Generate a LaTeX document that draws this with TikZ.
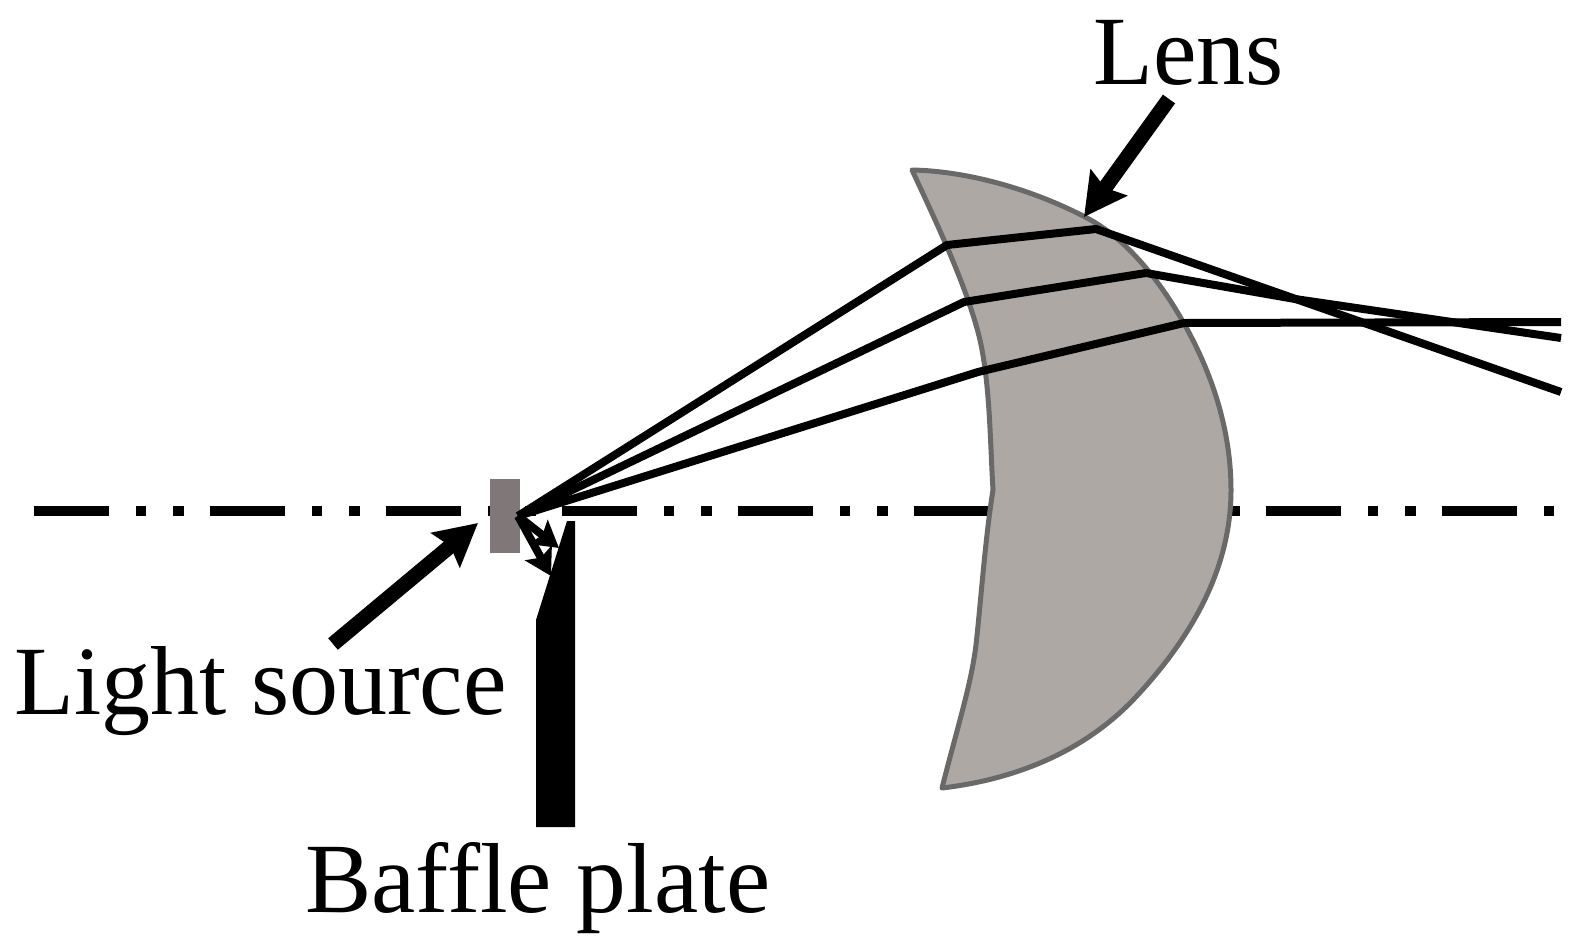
\documentclass[tikz,border=0pt]{standalone}
\usepackage{fontspec}
\setmainfont[Ligatures=NoCommon]{Liberation Serif}
\usetikzlibrary{arrows.meta}
\tikzset{
	lbl/.style={anchor=base west,inner sep=0pt,font=\fontsize{98}{98}\selectfont},
	axis/.style={line width=10pt,dash pattern=on 75pt off 27pt on 10.5pt off 27pt on 10.5pt off 26pt},
	lens/.style={draw={rgb,255:red,105;green,105;blue,105},fill={rgb,255:red,174;green,168;blue,165},line width=5pt,line join=round},
	ray/.style={line width=8pt,line join=round},
	pointer/.style={line width=15pt,-{Stealth[length=42pt,width=44pt,inset=6pt]}},
	bounce/.style={line width=8pt,-{Stealth[length=26pt,width=30pt,inset=5pt]}},
	srcbox/.style={fill={rgb,255:red,128;green,120;blue,120},minimum width=30pt,minimum height=74pt,inner sep=0pt}
}
\begin{document}
\begin{tikzpicture}[x=1pt,y=-1pt]
		\useasboundingbox (0,0) rectangle (1571,948);
		% optical axis
		\coordinate (a_0) at (33.5,511);
		\coordinate (a_1) at (1561,511);
		\draw[axis] (a_0) -- (a_1);
		% lens body
		\path[lens] (912,170) .. controls (965,171) and (1030,188) .. (1087,218)
		.. controls (1125,238) and (1158,278) .. (1182,320)
		.. controls (1212,372) and (1231,430) .. (1231,490)
		.. controls (1231,570) and (1190,640) .. (1133,700)
		.. controls (1080,755) and (1010,780) .. (942,788)
		.. controls (958,725) and (971,685) .. (976,645)
		.. controls (981,600) and (985,540) .. (993,490)
		.. controls (990,440) and (990,385) .. (980,340)
		.. controls (968,290) and (940,230) .. (912,170) -- cycle;
		% baffle and source
		\fill (567,521) -- (575,521) -- (575,827) -- (536,827) -- (536,620) -- cycle;
		\node[srcbox] (src) at (505,516) {};
		\coordinate (s_0) at (518,516);
		% rays
		\coordinate (r_1a) at (947,245);
		\coordinate (r_1b) at (1096,229);
		\coordinate (r_1c) at (1561,392);
		\coordinate (r_2a) at (964,302);
		\coordinate (r_2b) at (1146,273);
		\coordinate (r_2c) at (1295,299);
		\coordinate (r_2d) at (1561,338);
		\coordinate (r_3a) at (978,372);
		\coordinate (r_3b) at (1184,323);
		\coordinate (r_3c) at (1561,322);
		\draw[ray] (s_0) -- (r_1a) -- (r_1b) -- (r_1c);
		\draw[ray] (s_0) -- (r_2a) -- (r_2b) -- (r_2c) -- (r_2d);
		\draw[ray] (s_0) -- (r_3a) -- (r_3b) -- (r_3c);
		% bounced rays
		\coordinate (b_1) at (559,548);
		\coordinate (b_2) at (551,576);
		\draw[bounce] (s_0) -- (b_1);
		\draw[bounce] (s_0) -- (b_2);
		% labels
		\node[lbl] (l_lens) at (1093,84) {Lens};
		\node[lbl] (l_src) at (14,714) {Light source};
		\node[lbl,font=\fontsize{99.5}{99}\selectfont] (l_baf) at (305,912) {Baffle plate};
		\coordinate (p_1a) at (1169,99);
		\coordinate (p_1b) at (1084,217);
		\coordinate (p_2a) at (333,644);
		\coordinate (p_2b) at (478,523);
		\draw[pointer] (p_1a) -- (p_1b);
		\draw[pointer] (p_2a) -- (p_2b);
	\end{tikzpicture}
\end{document}
